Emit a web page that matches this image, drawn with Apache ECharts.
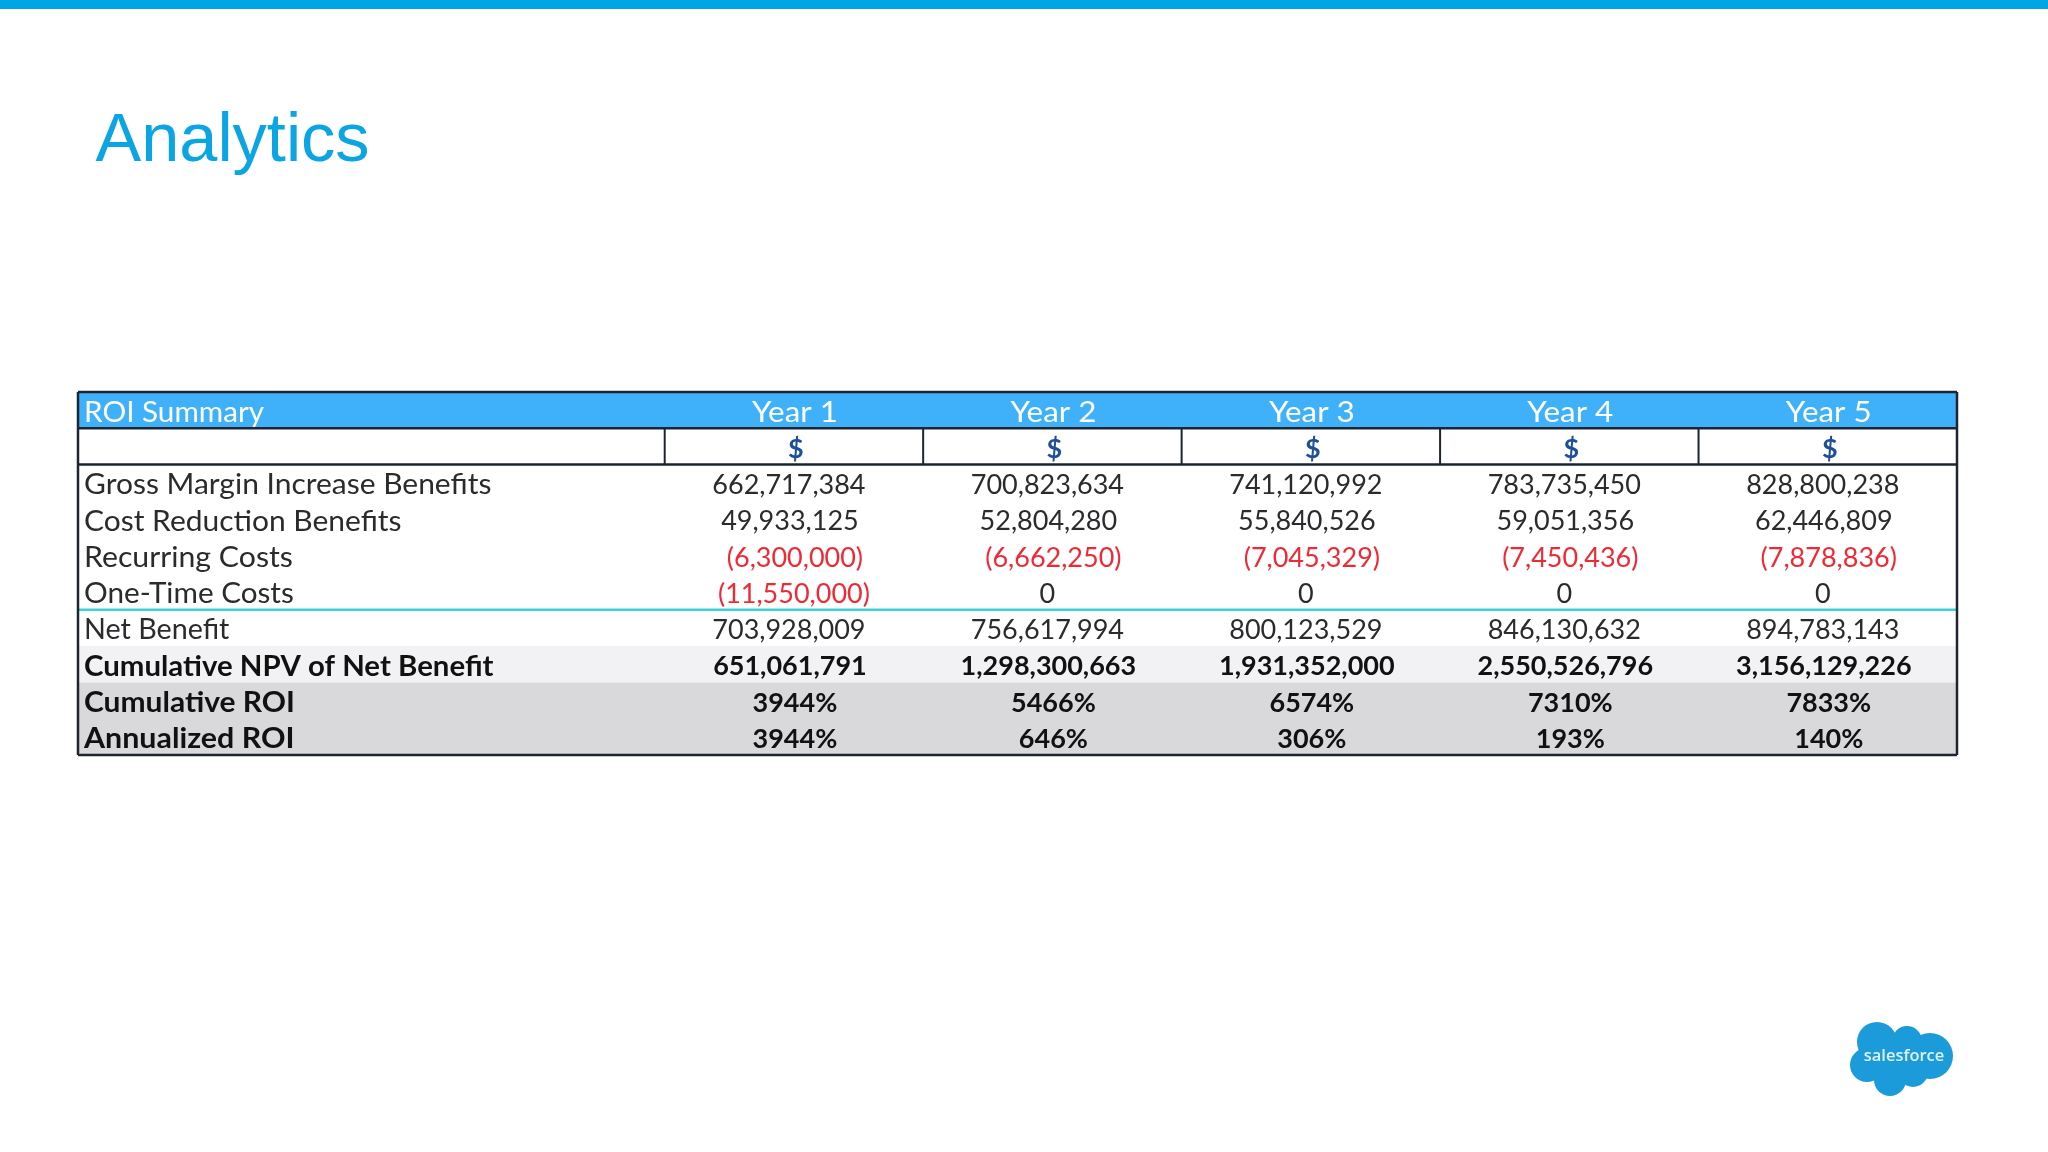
<!DOCTYPE html>
<html>
<head>
<meta charset="utf-8">
<title>Analytics</title>
<script src="https://cdn.jsdelivr.net/npm/echarts@6/dist/echarts.min.js"></script>
<style>
  html, body { margin: 0; padding: 0; background: #fff; }
  #main { width: 2048px; height: 1152px; }
</style>
</head>
<body>
<div id="main"></div>
<script type="text/javascript">
var years = ['Year 1', 'Year 2', 'Year 3', 'Year 4', 'Year 5'];
var grossMargin = [662717384, 700823634, 741120992, 783735450, 828800238];
var costReduction = [49933125, 52804280, 55840526, 59051356, 62446809];
var recurringCosts = [-6300000, -6662250, -7045329, -7450436, -7878836];
var oneTimeCosts = [-11550000, 0, 0, 0, 0];
var netBenefit = [703928009, 756617994, 800123529, 846130632, 894783143];
var cumulativeNpv = [651061791, 1298300663, 1931352000, 2550526796, 3156129226];
var cumulativeRoi = [3944, 5466, 6574, 7310, 7833];
var annualizedRoi = [3944, 646, 306, 193, 140];

// the label column is this many year columns wide
var labelCols = 2.27;
var font = 'Lato';
var textColor = '#2b2b2e';

function money(v) {
    var s = Math.abs(v).toLocaleString('en-US');
    return v < 0 ? '(' + s + ')' : s;
}
function percent(v) {
    return v + '%';
}

// rows under the two header rows, stretch widens the label to the reference's wider font
var rows = [
    { name: 'Gross Margin Increase Benefits', values: grossMargin, fmt: money, shift: -5, stretch: 1.07 },
    { name: 'Cost Reduction Benefits', values: costReduction, fmt: money, shift: -4, stretch: 1.07 },
    { name: 'Recurring Costs', values: recurringCosts, fmt: money, shift: 1, stretch: 1.08 },
    { name: 'One-Time Costs', values: oneTimeCosts, fmt: money, shift: 0, stretch: 1.06 },
    { name: 'Net Benefit', values: netBenefit, fmt: money, shift: -5, stretch: 1.025 },
    { name: 'Cumulative NPV of Net Benefit', values: cumulativeNpv, fmt: money, shift: -4, bold: true, stretch: 1.05 },
    { name: 'Cumulative ROI', values: cumulativeRoi, fmt: percent, shift: 1, bold: true, stretch: 1.07 },
    { name: 'Annualized ROI', values: annualizedRoi, fmt: percent, shift: 1, bold: true, stretch: 1.085 }
];

// filled bands: [first row, row count, color]
var bands = [[0, 1, '#3fb1fb'], [7, 1, '#f2f2f4'], [8, 2, '#d9d8db']];

// build the cells: [x, y, text, color, weight, align, shift, size, stretch]
var cells = [];
cells.push([-labelCols, 0.5, 'ROI Summary', '#ffffff', 'normal', 'left', 6, 28, 1.06]);
years.forEach(function (y, c) {
    cells.push([c + 0.5, 0.5, y, '#ffffff', 'normal', 'center', 1, 28, 1.12]);
    cells.push([c + 0.5, 1.5, '$', '#1f4e9a', 'bold', 'center', 2, 27, 1]);
});
rows.forEach(function (row, i) {
    var r = i + 2;
    var base = row.bold ? '#111111' : textColor;
    var weight = row.bold ? 'bold' : 'normal';
    cells.push([-labelCols, r + 0.5, row.name, base, weight, 'left', 6, 28, row.stretch]);
    row.values.forEach(function (v, c) {
        var color = v < 0 ? '#ee2a35' : base;
        var shift = v === 0 ? -5 : row.shift;
        cells.push([c + 0.5, r + 0.5, row.fmt(v), color, weight, 'center', shift, 27, 1]);
    });
});

// table rules: [x0, y0, x1, y1, color, width]
var rules = [
    [-labelCols, 0, 5, 0, '#1c2530', 2.5],
    [-labelCols, 1, 5, 1, '#1c2530', 2.5],
    [-labelCols, 2, 5, 2, '#1c2530', 2.5],
    [-labelCols, 6, 5, 6, '#3ed3dc', 2.5],
    [-labelCols, 10, 5, 10, '#1c2530', 2.5],
    [-labelCols, 0, -labelCols, 10, '#1c2530', 2.5],
    [5, 0, 5, 10, '#1c2530', 2.5],
    [0, 1, 0, 2, '#1c2530', 2],
    [1, 1, 1, 2, '#1c2530', 2],
    [2, 1, 2, 2, '#1c2530', 2],
    [3, 1, 3, 2, '#1c2530', 2],
    [4, 1, 4, 2, '#1c2530', 2]
];

// salesforce cloud, just circles and a word
var cloud = [
    [1877, 1042, 20], [1907, 1041, 15], [1930, 1056, 23],
    [1867, 1065, 17], [1890, 1080, 16], [1913, 1072, 15], [1895, 1058, 24]
];
var logo = cloud.map(function (c) {
    return { type: 'circle', shape: { cx: c[0], cy: c[1], r: c[2] }, style: { fill: '#1b9bda' }, silent: true };
});
logo.push({
    type: 'text', x: 1904, y: 1056, silent: true,
    style: { text: 'salesforce', fill: '#dff2fb', font: '600 16.5px "Open Sans"', textAlign: 'center', textVerticalAlign: 'middle' }
});

var myChart = echarts.init(document.getElementById('main'));
var option = {
    animation: false,
    backgroundColor: '#ffffff',
    title: {
        text: 'Analytics',
        left: 95.5,
        top: 108,
        padding: 0,
        textStyle: { color: '#0aa5e2', fontFamily: 'Liberation Sans', fontSize: 68.5, fontWeight: 'normal' }
    },
    grid: { left: 78, right: 91, top: 392, height: 363 },
    xAxis: { type: 'value', min: -labelCols, max: 5, show: false },
    yAxis: { type: 'value', min: 0, max: 10, inverse: true, show: false },
    graphic: [
        { type: 'rect', shape: { x: 0, y: 0, width: 2048, height: 9 }, style: { fill: '#00a5e6' }, silent: true }
    ].concat(logo),
    series: [
        {
            type: 'custom',
            name: 'bands',
            silent: true,
            data: bands,
            encode: { x: [], y: 0 },
            renderItem: function (params, api) {
                var d = bands[params.dataIndex];
                var a = api.coord([-labelCols, d[0]]);
                var b = api.coord([5, d[0] + d[1]]);
                return { type: 'rect', shape: { x: a[0], y: a[1], width: b[0] - a[0], height: b[1] - a[1] }, style: { fill: d[2] } };
            },
            z: 1
        },
        {
            type: 'custom',
            name: 'rules',
            silent: true,
            data: rules,
            encode: { x: [0, 2], y: [1, 3] },
            renderItem: function (params, api) {
                var d = rules[params.dataIndex];
                var a = api.coord([d[0], d[1]]);
                var b = api.coord([d[2], d[3]]);
                return { type: 'line', shape: { x1: a[0], y1: a[1], x2: b[0], y2: b[1] }, style: { stroke: d[4], lineWidth: d[5] } };
            },
            z: 2
        },
        {
            type: 'custom',
            name: 'cells',
            silent: true,
            data: cells,
            encode: { x: 0, y: 1 },
            renderItem: function (params, api) {
                var d = cells[params.dataIndex];
                var p = api.coord([d[0], d[1]]);
                return {
                    type: 'text',
                    x: p[0] + d[6],
                    y: p[1] + 2.5,
                    scaleX: d[8],
                    style: {
                        text: d[2],
                        fill: d[3],
                        font: d[4] + ' ' + d[7] + 'px "' + font + '"',
                        textAlign: d[5],
                        textVerticalAlign: 'middle'
                    }
                };
            },
            z: 3
        }
    ]
};
myChart.setOption(option);
</script>
</body>
</html>
